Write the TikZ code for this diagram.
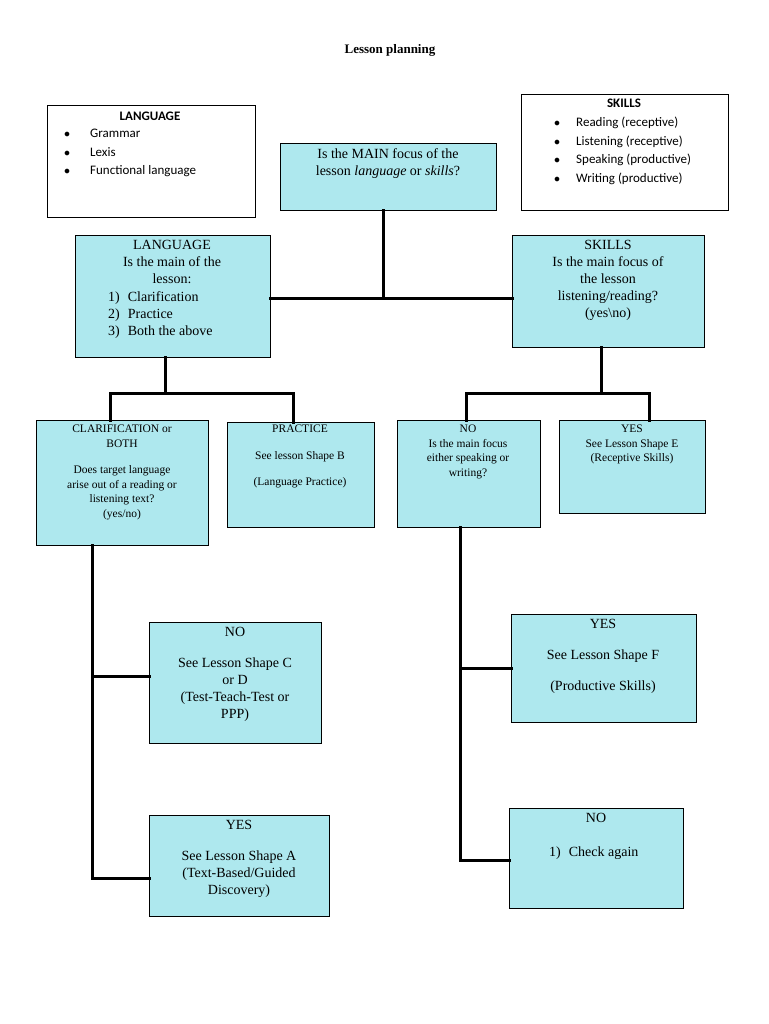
\documentclass[tikz,border=0pt]{standalone}
\usepackage{fontspec}
\setmainfont{Liberation Serif}
\newfontfamily\carlfont{Carlito}
\begin{document}
\begin{tikzpicture}[x=1pt,y=-1pt,
  bx/.style={draw=black,line width=0.9pt,fill=boxc,inner sep=0pt,anchor=north west},
  wbx/.style={draw=black,line width=0.7pt,fill=white,inner sep=0pt,anchor=north west},
  big/.style={anchor=north,align=center,inner sep=0pt,font=\fontsize{14}{17}\selectfont},
  sml/.style={anchor=north,align=center,inner sep=0pt,font=\fontsize{11.5}{14.5}\selectfont},
  lst/.style={anchor=north west,align=left,inner sep=0pt,font=\carlfont\fontsize{13}{18.5}\selectfont},
  ln/.style={line width=3pt,line cap=rect}]
\definecolor{boxc}{HTML}{AEE8EE}
\useasboundingbox (0,0) rectangle (768,1024);
\newcommand\bxx[6][bx]{\node[#1,minimum width=#5-#3,minimum height=#6-#4] (#2) at (#3,#4) {};}
\node[font=\bfseries\fontsize{13}{15}\selectfont] (title) at (390,50) {Lesson planning};
% top white boxes
\bxx[wbx]{lang}{47}{105}{255}{217}
\node[anchor=north,inner sep=0pt,font=\carlfont\bfseries\fontsize{13}{15}\selectfont] (langh) at (150,112) {LANGUAGE};
\node[lst] (langl) at (64,129) {$\bullet$\hspace{20pt}Grammar\\$\bullet$\hspace{20pt}Lexis\\$\bullet$\hspace{20pt}Functional language};
\bxx[wbx]{sk}{521}{94}{728}{210}
\node[anchor=north,inner sep=0pt,font=\carlfont\bfseries\fontsize{13}{15}\selectfont] (skh) at (624,99) {SKILLS};
\node[lst] (skl) at (554,117) {$\bullet$\hspace{16pt}Reading (receptive)\\$\bullet$\hspace{16pt}Listening (receptive)\\$\bullet$\hspace{16pt}Speaking (productive)\\$\bullet$\hspace{16pt}Writing (productive)};
% main
\bxx{main}{280}{143}{496}{210}
\node[big] (maint) at (388,148) {Is the MAIN focus of the\\lesson \textit{language} or \textit{skills}?};
\bxx{L}{75}{235}{270}{357}
\node[big] (Lt) at (172,240) {LANGUAGE\\Is the main of the\\lesson:};
\node[anchor=north west,align=left,inner sep=0pt,font=\fontsize{14}{17}\selectfont] (Ll) at (108,291) {1)\hspace{8pt}Clarification\\2)\hspace{8pt}Practice\\3)\hspace{8pt}Both the above};
\bxx{S}{512}{235}{704}{347}
\node[big] (St) at (608,240) {SKILLS\\Is the main focus of\\the lesson\\listening/reading?\\(yes\textbackslash no)};
% second level
\bxx{C}{36}{420}{208}{545}
\node[sml] (Ct) at (122,425) {CLARIFICATION or\\BOTH\\[12pt]Does target language\\arise out of a reading or\\listening text?\\(yes/no)};
\bxx{P}{227}{422}{374}{527}
\node[sml] (Pt) at (300,425) {PRACTICE\\[12pt]See lesson Shape B\\[12pt](Language Practice)};
\bxx{N}{397}{420}{540}{527}
\node[sml] (Nt) at (468,425) {NO\\Is the main focus\\either speaking or\\writing?};
\bxx{Y}{559}{420}{705}{513}
\node[sml] (Yt) at (632,425) {YES\\See Lesson Shape E\\(Receptive Skills)};
% third level
\bxx{NC}{149}{622}{321}{743}
\node[big] (NCt) at (235,627) {NO\\[14pt]See Lesson Shape C\\or D\\(Test-Teach-Test or\\PPP)};
\bxx{YA}{149}{815}{329}{916}
\node[big] (YAt) at (239,820) {YES\\[14pt]See Lesson Shape A\\(Text-Based/Guided\\Discovery)};
\bxx{YF}{511}{614}{696}{722}
\node[big] (YFt) at (603,619) {YES\\[14pt]See Lesson Shape F\\[14pt](Productive Skills)};
\bxx{NN}{509}{808}{683}{908}
\node[big] (NNt) at (596,813) {NO};
\node[anchor=north west,inner sep=0pt,font=\fontsize{14}{17}\selectfont] (NNl) at (549,847) {1)\hspace{8pt}Check again};
% connector coordinates
\coordinate (m1) at (383,298);
\coordinate (j1) at (165,393);
\coordinate (j2) at (601,393);
\coordinate (t1) at (92,676);
\coordinate (t2) at (92,878);
\coordinate (u1) at (460,668);
\coordinate (u2) at (460,860);
\draw[ln] (main.south -| m1) -- (m1);
\draw[ln] (L.east |- m1) -- (S.west |- m1);
\draw[ln] (L.south -| j1) -- (j1);
\draw[ln] (C.north -| 110,0) -- (110,393) -- (293,393) -- (P.north -| 293,0);
\draw[ln] (S.south -| j2) -- (j2);
\draw[ln] (N.north -| 466,0) -- (466,393) -- (649,393) -- (Y.north -| 649,0);
\draw[ln] (C.south -| t1) -- (t2) -- (YA.west |- t2);
\draw[ln] (t1) -- (NC.west |- t1);
\draw[ln] (N.south -| u1) -- (u2) -- (NN.west |- u2);
\draw[ln] (u1) -- (YF.west |- u1);
\end{tikzpicture}
\end{document}
